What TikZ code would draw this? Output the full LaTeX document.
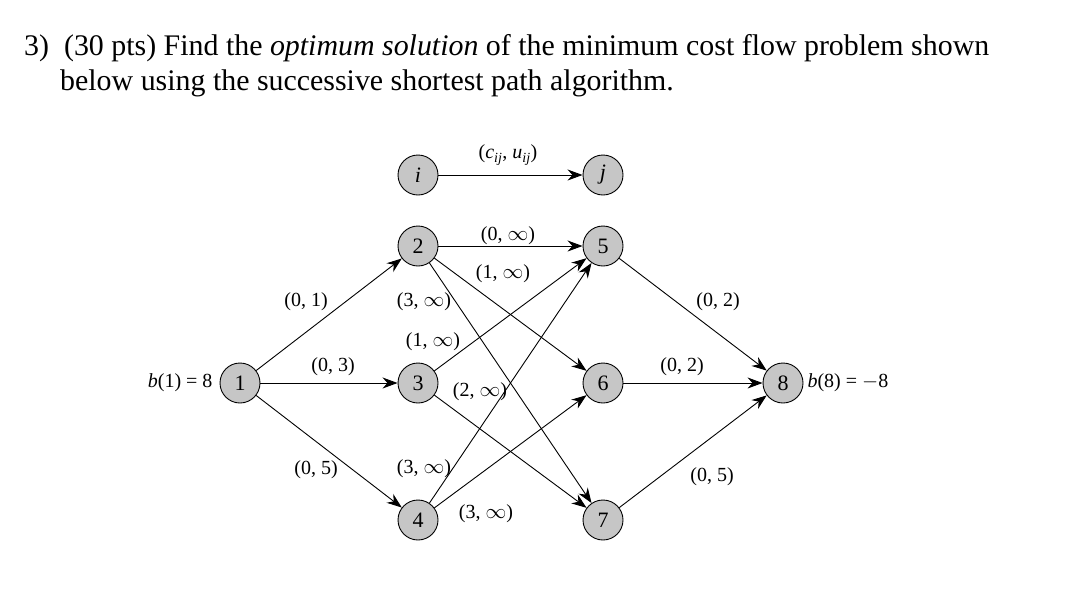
\documentclass[tikz,border=0pt]{standalone}
\usepackage{fontspec}
\setmainfont{Liberation Serif}
\usetikzlibrary{arrows.meta}
\begin{document}
\begin{tikzpicture}[x=1pt,y=-1pt,
  nd/.style={circle,draw,line width=0.9pt,fill=gray!45,minimum size=40pt,inner sep=0pt,font=\fontsize{22}{22}\selectfont},
  ar/.style={-{Stealth[length=15pt,width=11pt]},line width=0.9pt},
  lb/.style={font=\fontsize{20}{20}\selectfont}]
\useasboundingbox (0,0) rectangle (1066,590);
\node[anchor=west,font=\fontsize{29.9}{35}\selectfont,align=left,inner sep=0pt] (title) at (24,66) {3)\ \ (30 pts) Find the \textit{optimum solution} of the minimum cost flow problem shown\\\hspace*{36pt}below using the successive shortest path algorithm.};
\node[nd] (i) at (418,175) {\textit{i}};
\node[nd] (j) at (603,175) {\textit{j}};
\node[nd] (n2) at (418,246) {2};
\node[nd] (n5) at (603,246) {5};
\node[nd] (n1) at (240,383) {1};
\node[nd] (n3) at (418,383) {3};
\node[nd] (n6) at (603,383) {6};
\node[nd] (n8) at (783,383) {8};
\node[nd] (n4) at (418,520) {4};
\node[nd] (n7) at (603,520) {7};
\draw[ar] (i) -- (j);
\draw[ar] (n1) -- (n2);
\draw[ar] (n1) -- (n3);
\draw[ar] (n1) -- (n4);
\draw[ar] (n2) -- (n5);
\draw[ar] (n2) -- (n6);
\draw[ar] (n2) -- (n7);
\draw[ar] (n3) -- (n5);
\draw[ar] (n3) -- (n7);
\draw[ar] (n4) -- (n5);
\draw[ar] (n4) -- (n6);
\draw[ar] (n5) -- (n8);
\draw[ar] (n6) -- (n8);
\draw[ar] (n7) -- (n8);
\node[lb] (lij) at (508,155) {(\textit{c\textsubscript{ij}}, \textit{u\textsubscript{ij}})};
\node[lb] (l25) at (508,236) {(0, $\infty$)};
\node[lb] (l26) at (503,274) {(1, $\infty$)};
\node[lb] (l27) at (424,302) {(3, $\infty$)};
\node[lb] (l35) at (433,342) {(1, $\infty$)};
\node[lb] (l37) at (480,392) {(2, $\infty$)};
\node[lb] (l45) at (424,469) {(3, $\infty$)};
\node[lb] (l46) at (486,514) {(3, $\infty$)};
\node[lb] (l12) at (306,302) {(0, 1)};
\node[lb] (l13) at (333,367) {(0, 3)};
\node[lb] (l14) at (316,470) {(0, 5)};
\node[lb] (l58) at (718,302) {(0, 2)};
\node[lb] (l68) at (682,367) {(0, 2)};
\node[lb] (l78) at (712,477) {(0, 5)};
\node[lb,anchor=east] (b1) at (216,383) {\textit{b}(1) = 8};
\node[lb,anchor=west] (b8) at (804,383) {\textit{b}(8) = $-$8};
\end{tikzpicture}
\end{document}
